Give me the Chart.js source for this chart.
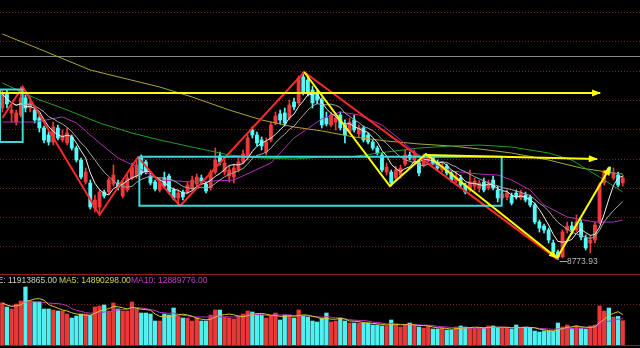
<!DOCTYPE html>
<html><head><meta charset="utf-8">
<script src="https://cdn.jsdelivr.net/npm/chart.js@4.4.1/dist/chart.umd.min.js"></script>
<style>
html,body{margin:0;padding:0;background:#000;overflow:hidden;width:640px;height:348px}
#wrap{position:relative;width:640px;height:348px;overflow:hidden;background:#000}
canvas{position:absolute;left:0}
#c1{top:0}
#c2{top:274px}
.vt{position:absolute;top:275px;font:8.5px "Liberation Sans",Arial,sans-serif;white-space:nowrap;line-height:10px}
</style></head><body>
<div id="wrap">
<canvas id="c1" width="640" height="274"></canvas>
<canvas id="c2" width="640" height="74"></canvas>
<span class="vt" id="t1" style="right:583px;color:#d2d2b4"></span>
<span class="vt" id="t2" style="left:59px;color:#d8d050"></span>
<span class="vt" id="t3" style="left:131px;color:#c838c8"></span>
</div>
<script>
// ---------- data ----------
const opens = [11362,11618,11277,11123,11243,11533,11362,11328,11192,11021,
 10901,10782,11021,10816,10765,10867,10679,10474,10099,10082,
 9655,9672,9928,9928,10064,10082,9860,9962,10167,10201,
 10508,10440,10201,10099,9962,10167,10201,9962,9826,9928,
 9928,9996,10064,10167,10064,9996,10269,10543,10269,10201,
 10184,10304,10440,10525,10987,10901,10816,10611,10816,11106,
 11260,11277,11192,11465,11448,11891,11840,11669,11618,11499,
 11192,11072,11123,11243,11072,10953,11158,10918,11021,10901,
 10782,10679,10560,10269,10269,10167,10218,10406,10560,10474,
 10423,10389,10474,10525,10423,10304,10372,10252,10116,10167,
 10047,9962,10030,9996,10099,9996,10133,9962,9826,9843,
 9860,9911,9826,9877,9843,9707,9416,9348,9280,9058,
 8905,8820,9280,9348,9280,9399,9143,9058,9109,9416,
 10082,10338,10167,10218,10082];
const closes = [11601,11431,11328,11277,11533,11362,11448,11158,11021,10816,
 10782,11038,10850,10884,10935,10679,10474,10184,10269,9672,
 9792,9928,9860,10133,10218,10013,10082,10167,10355,10389,
 10252,10269,10082,9979,10099,10030,9928,9826,9911,9843,
 10047,10133,10184,10099,9945,10269,10474,10440,10423,10304,
 10338,10440,10577,10850,10901,10765,10713,10782,11072,11226,
 11158,11106,11414,11379,11874,11635,11635,11448,11499,11072,
 11089,11243,11192,11021,10901,11123,10987,11021,10816,10782,
 10679,10594,10304,10355,10082,10304,10338,10560,10508,10560,
 10252,10525,10543,10423,10338,10372,10252,10133,10184,10047,
 9928,10099,10116,10082,9962,10064,9996,9826,9894,9911,
 9741,9843,9911,9792,9707,9416,9314,9280,9109,8905,
 8820,9246,9348,9280,9416,9161,8973,9109,9365,10047,
 10269,10252,10252,10047,10167];
const highs = [11669,11669,11414,11328,11720,11584,11550,11396,11226,11055,
 10953,11123,11072,10987,11021,10901,10713,10508,10338,10133,
 9877,9962,9962,10167,10389,10133,10133,10218,10423,10474,
 10560,10474,10269,10133,10167,10269,10235,9996,9962,9962,
 10099,10201,10235,10218,10099,10304,10679,10611,10474,10372,
 10406,10508,10645,10901,11038,10953,10867,10850,11123,11294,
 11328,11362,11499,11533,11908,11976,11908,11737,11669,11533,
 11294,11294,11260,11294,11158,11192,11243,11072,11055,10935,
 10816,10713,10594,10423,10304,10372,10389,10645,10611,10645,
 10474,10577,10560,10560,10474,10423,10406,10286,10269,10218,
 10082,10304,10167,10133,10167,10133,10201,10030,9962,9962,
 9911,9962,9962,9928,9877,9741,9450,9382,9314,9109,
 8939,9280,9416,9416,9536,9450,9195,9178,9416,10082,
 10304,10355,10338,10269,10218];
const lows = [11294,11362,11123,11072,11209,11294,11294,11106,10953,10765,
 10730,10730,10816,10782,10730,10645,10440,10150,10064,9638,
 9587,9536,9826,9894,10030,9962,9826,9928,10133,10167,
 10218,10235,10047,9945,9928,9996,9894,9792,9690,9792,
 9894,9962,10030,10064,9911,9962,10235,10389,10218,10099,
 10082,10269,10406,10474,10850,10713,10645,10560,10782,11072,
 11089,11055,11158,11328,11414,11584,11567,11362,11431,11021,
 11055,11038,10987,10987,10765,10918,10953,10867,10782,10748,
 10645,10560,10269,10218,10030,10133,10167,10372,10474,10440,
 10201,10355,10440,10389,10304,10269,10218,10099,10082,10013,
 9894,9928,9962,9928,9928,9962,9962,9758,9792,9792,
 9707,9809,9792,9758,9672,9382,9246,9229,9058,8871,
 8773.93,8803,9229,9212,9246,9109,8939,8888,9058,9382,
 10047,10218,10133,10013,10030];
const volumes = [20580000,18620000,17640000,20090000,21560000,28420000,21560000,21070000,21070000,17640000,
 17640000,17150000,16660000,16660000,15190000,13230000,14210000,15190000,15190000,14700000,
 18620000,19110000,19600000,16660000,20580000,17640000,16660000,16660000,21070000,17640000,
 15680000,15680000,15190000,11760000,11760000,15190000,14700000,18130000,14210000,13230000,
 13230000,11760000,13230000,11760000,11760000,14700000,17150000,17150000,13720000,13230000,
 12740000,14210000,15190000,16660000,16170000,14700000,14700000,13230000,14210000,15680000,
 12250000,14700000,14700000,13230000,17150000,14210000,13720000,11760000,11270000,13230000,
 15680000,11270000,11760000,13230000,11760000,10780000,10780000,10780000,10780000,10780000,
 9800000,9800000,9310000,9310000,12250000,9800000,8820000,9800000,10780000,9800000,
 8820000,8330000,9310000,7840000,7840000,8330000,7350000,7350000,8820000,9310000,
 8820000,8330000,8330000,8330000,8330000,9310000,9310000,8330000,8330000,8330000,
 7840000,9800000,8330000,8820000,8330000,6860000,6370000,6860000,6860000,6860000,
 10780000,8820000,9800000,8330000,9310000,8330000,7840000,9310000,9800000,19110000,
 16660000,18130000,13720000,14014000,11913865];
// slow moving averages: [candle index, value]
const maPurple = [[0,11123],[7,11123],[13,11209],[16,11106],[21,10765],[25,10508],[29,10355],[34,10133],[41,10099],[50,10133],[58,10423],[63,10850],[69,11175],[73,11294],[77,11243],[82,11072],[86,10816],[89,10611],[93,10406],[97,10286],[103,10235],[107,10218],[110,10133],[114,9962],[117,9707],[122,9502],[128,9416],[132,9416],[134,9450]];
const maGreen = [[0,11789],[7,11533],[14,11328],[21,11106],[28,10935],[34,10816],[41,10696],[49,10560],[56,10508],[63,10491],[69,10525],[75,10525],[83,10611],[90,10679],[97,10713],[103,10730],[110,10696],[118,10594],[123,10474],[129,10184],[134,9928]];
const maOlive = [[0,12625],[8,12369],[19,12010],[34,11720],[41,11550],[49,11328],[56,11158],[63,11038],[69,10970],[76,10867],[83,10799],[90,10748],[97,10713],[103,10662],[110,10594],[118,10474],[125,10338],[132,10252],[134,10235]];
// drawn annotations: [candle index, value]
const redZigzag = [[0,11192],[4.4,11726],[21,9536],[29.3,10525],[38.4,9690],[65.2,11976],[120,8773.93]];
const yellowDown = [[65.2,11976],[83.7,10030],[91.5,10577],[119.8,8803]];
const yellowUp = [[119.8,8803],[131.3,10355]];
const yellowLevel1 = [[-0.5,11618],[129.1,11618]];
const yellowLevel2 = [[91.5,10560],[128.4,10491]];
const box1 = [[-0.5,11678],[4.4,11678],[4.4,10782],[-0.5,10782],[-0.5,11678]];
const box2 = [[29.6,10531],[107.85,10531],[107.85,9695],[29.6,9695],[29.6,10531]];
const gridLevels = [9000,9500,10000,10500,11000,11500,12000,12500,13000];
const grayLevel = 12249;
const volGridLevels = [20000000];
const lowIndex = 120;
const lowText = '8773.93';
const volLegend = ['VOLUME: 11913865.00','MA5: 14890298.00','MA10: 12889776.00'];

// ---------- helpers ----------
const N = closes.length;
const idx = closes.map((_, i) => i);
const RED = '#ee3a3a', CYAN = '#54fcfc';
const candleCol = idx.map(i => closes[i] >= opens[i] ? RED : CYAN);
const XMIN = -0.5, XMAX = 640 / 4.63 - 0.5;
function movAvg(arr, n) {
  return arr.map((_, i) => {
    const s = Math.max(0, i - n + 1); let t = 0;
    for (let k = s; k <= i; k++) t += arr[k];
    return {x: i, y: t / (i - s + 1)};
  });
}
const P = a => a.map(p => ({x: p[0], y: p[1]}));
function line(data, color, width, order, extra) {
  return Object.assign({type: 'line', data, borderColor: color, borderWidth: width,
    pointRadius: 0, fill: false, tension: 0, order}, extra || {});
}
function arrowHead(ctx, x1, y1, x2, y2, color) {
  const a = Math.atan2(y2 - y1, x2 - x1), L = 8, W = 3.5;
  ctx.fillStyle = color; ctx.beginPath();
  ctx.moveTo(x2 + Math.cos(a), y2 + Math.sin(a));
  ctx.lineTo(x2 - L * Math.cos(a) + W * Math.sin(a), y2 - L * Math.sin(a) - W * Math.cos(a));
  ctx.lineTo(x2 - L * Math.cos(a) - W * Math.sin(a), y2 - L * Math.sin(a) + W * Math.cos(a));
  ctx.closePath(); ctx.fill();
}

const mainDeco = {
  id: 'mainDeco',
  beforeDatasetsDraw(chart) {
    const {ctx} = chart, y = chart.scales.y;
    ctx.save();
    ctx.lineWidth = 1; ctx.strokeStyle = '#7a2020'; ctx.setLineDash([1, 2]);
    gridLevels.forEach(v => {
      const py = Math.round(y.getPixelForValue(v)) + 0.5;
      ctx.beginPath(); ctx.moveTo(0, py); ctx.lineTo(chart.width, py); ctx.stroke();
    });
    ctx.setLineDash([]); ctx.strokeStyle = '#8a8a8a';
    const gy = Math.round(y.getPixelForValue(grayLevel)) + 0.5;
    ctx.beginPath(); ctx.moveTo(0, gy); ctx.lineTo(chart.width, gy); ctx.stroke();
    ctx.restore();
  },
  afterDatasetsDraw(chart) {
    const {ctx} = chart;
    ctx.save();
    chart.data.datasets.forEach((ds, di) => {
      if (!ds.arrow) return;
      const el = chart.getDatasetMeta(di).data;
      const a = el[el.length - 2], b = el[el.length - 1];
      arrowHead(ctx, a.x, a.y, b.x, b.y, ds.borderColor);
    });
    const x = chart.scales.x.getPixelForValue(lowIndex), y = chart.scales.y.getPixelForValue(lows[lowIndex]);
    ctx.strokeStyle = '#b0b0b0'; ctx.lineWidth = 1;
    ctx.beginPath(); ctx.moveTo(x + 2, Math.round(y) + 1.5); ctx.lineTo(x + 9, Math.round(y) + 1.5); ctx.stroke();
    ctx.fillStyle = '#b8b8b8'; ctx.font = '8.5px "Liberation Sans", Arial, sans-serif';
    ctx.textBaseline = 'middle'; ctx.fillText(lowText, x + 9, y + 2);
    ctx.restore();
  }
};

new Chart(document.getElementById('c1'), {
  type: 'bar',
  data: {datasets: [
    line(P(box1), '#3ed8d8', 2, 1),
    line(P(box2), '#3ed8d8', 2, 1),
    line(P(redZigzag), '#ff2a2a', 2, 2),
    line(P(yellowDown), '#ffff00', 2, 0, {arrow: true}),
    line(P(yellowUp), '#ffff00', 2, 0, {arrow: true}),
    line(P(yellowLevel1), '#ffff00', 2, 0, {arrow: true}),
    line(P(yellowLevel2), '#ffff00', 2, 0, {arrow: true}),
    line(movAvg(closes, 5), '#f0f0f0', 1, 10),
    line(movAvg(closes, 10), '#a8a8a8', 1, 11),
    line(P(maPurple), '#b42cb4', 1, 12),
    line(P(maGreen), '#22a022', 1, 13),
    line(P(maOlive), '#a8a838', 1, 14),
    {type: 'bar', data: idx.map(i => ({x: i, y: [Math.min(opens[i], closes[i]), Math.max(opens[i], closes[i])]})),
      backgroundColor: candleCol, barThickness: 3.2, grouped: false, minBarLength: 1, order: 20},
    {type: 'bar', data: idx.map(i => ({x: i, y: [lows[i], highs[i]]})),
      backgroundColor: candleCol, barThickness: 1, grouped: false, order: 21}
  ]},
  options: {
    responsive: false, animation: false, events: [],
    layout: {padding: 0},
    plugins: {legend: {display: false}, tooltip: {enabled: false}},
    scales: {
      x: {type: 'linear', min: XMIN, max: XMAX, display: false, offset: false},
      y: {min: 8529, max: 13205, display: false}
    }
  },
  plugins: [mainDeco]
});

const volDeco = {
  id: 'volDeco',
  beforeDatasetsDraw(chart) {
    const {ctx} = chart, y = chart.scales.y, a = chart.chartArea;
    ctx.save();
    ctx.lineWidth = 1; ctx.strokeStyle = '#7a2020'; ctx.setLineDash([1, 2]);
    volGridLevels.forEach(v => {
      const py = Math.round(y.getPixelForValue(v)) + 0.5;
      ctx.beginPath(); ctx.moveTo(0, py); ctx.lineTo(chart.width, py); ctx.stroke();
    });
    ctx.setLineDash([]); ctx.strokeStyle = '#9a1c1c';
    ctx.beginPath(); ctx.moveTo(0, 0.5); ctx.lineTo(chart.width, 0.5); ctx.stroke();
    ctx.beginPath(); ctx.moveTo(0, a.bottom + 0.5); ctx.lineTo(chart.width, a.bottom + 0.5); ctx.stroke();
    ctx.restore();
  }
};

new Chart(document.getElementById('c2'), {
  type: 'bar',
  data: {datasets: [
    line(movAvg(volumes, 5), '#d8c830', 1, 0),
    line(movAvg(volumes, 10), '#c030c0', 1, 1),
    {type: 'bar', data: idx.map(i => ({x: i, y: volumes[i]})),
      backgroundColor: candleCol.map(c => c === RED ? '#e83838' : '#50f0f0'),
      barThickness: 3.6, grouped: false, order: 5}
  ]},
  options: {
    responsive: false, animation: false, events: [],
    layout: {padding: {top: 1, bottom: 3, left: 0, right: 0}},
    plugins: {legend: {display: false}, tooltip: {enabled: false}},
    scales: {
      x: {type: 'linear', min: XMIN, max: XMAX, display: false, offset: false},
      y: {min: 0, max: 34300000, display: false}
    }
  },
  plugins: [volDeco]
});

document.getElementById('t1').textContent = volLegend[0];
document.getElementById('t2').textContent = volLegend[1];
document.getElementById('t3').textContent = volLegend[2];
</script>
</body></html>
